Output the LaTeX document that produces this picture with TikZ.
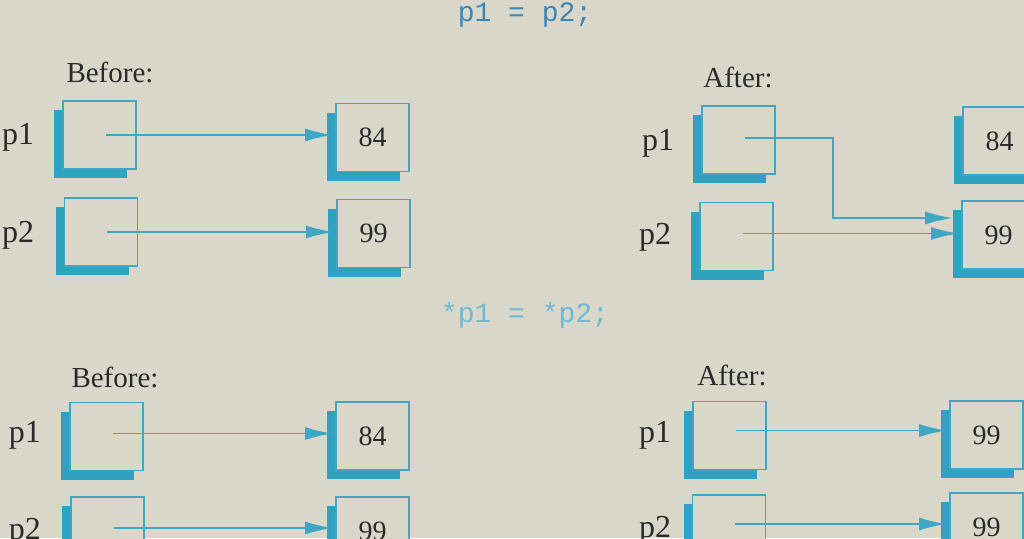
\documentclass[tikz,border=0pt]{standalone}
\usepackage{fontspec}
\setmainfont{Liberation Serif}
\setmonofont{Liberation Mono}
\usetikzlibrary{arrows.meta,shadows,calc}
\definecolor{paper}{HTML}{D8D7CA}
\definecolor{cy}{HTML}{3FA7C4}
\definecolor{cyshadow}{HTML}{2FA2C0}
\definecolor{ink}{HTML}{2A2A2A}
\definecolor{codeblue}{HTML}{3A86B8}
\definecolor{codelight}{HTML}{6DBAD4}
\tikzset{
  cell/.style={draw=cy, line width=1.8pt, fill=paper, minimum width=73pt, minimum height=68pt,
    inner sep=0pt, font=\fontsize{28}{28}\selectfont, text=ink,
    drop shadow={shadow xshift=-9pt, shadow yshift=-9pt, fill=cyshadow, opacity=1}},
  ptr/.style={draw=cy, line width=1.6pt, -{Latex[length=27pt,width=13pt]}, shorten >=9pt},
  lbl/.style={font=\fontsize{32}{32}\selectfont, text=ink, inner sep=0pt},
  hdr/.style={font=\fontsize{29}{29}\selectfont, text=ink, inner sep=0pt},
  code/.style={font=\ttfamily\fontsize{28}{28}\selectfont, inner sep=0pt}
}
\begin{document}
\begin{tikzpicture}[x=1pt,y=-1pt]
\useasboundingbox (0,0) rectangle (1024,538);
\clip (0,0) rectangle (1024,538);
\fill[paper] (0,0) rectangle (1024,538);

% titles
\node[code, text=codeblue] (t1) at (525,15) {p1 = p2;};
\node[code, text=codelight] (t2) at (525,315) {*p1 = *p2;};

% ---------- top left: Before ----------
\node[hdr] (hb1) at (110,72) {Before:};
\node[lbl] (lp1a) at (18,137) {p1};
\node[lbl] (lp2a) at (18,235) {p2};
\node[cell] (ap1) at (99.5,135) {};
\node[cell] (ap2) at (101,232) {};
\node[cell] (a84) at (372.5,137.5) {84};
\node[cell] (a99) at (373.5,233.5) {99};
\draw[ptr] ([xshift=6pt]ap1.center) -- ([xshift=6pt]ap1.center -| a84.west);
\draw[ptr] ([xshift=6pt]ap2.center) -- ([xshift=6pt]ap2.center -| a99.west);

% ---------- top right: After ----------
\node[hdr] (ha1) at (738,77) {After:};
\node[lbl] (lp1b) at (658,143) {p1};
\node[lbl] (lp2b) at (655,237) {p2};
\node[cell] (bp1) at (738.5,140) {};
\node[cell] (bp2) at (736.5,236.5) {};
\node[cell] (b84) at (999.5,141) {84};
\node[cell] (b99) at (998.5,235) {99};
\coordinate (elbow) at (833,218);
\draw[ptr] ([xshift=6pt,yshift=2pt]bp1.center) -| (elbow) -- (elbow -| b99.west);
\draw[ptr] ([xshift=6pt,yshift=3pt]bp2.center) -- ([xshift=6pt,yshift=3pt]bp2.center -| b99.west);

% ---------- bottom left: Before ----------
\node[hdr] (hb2) at (115,377) {Before:};
\node[lbl] (lp1c) at (25,435) {p1};
\node[lbl] (lp2c) at (25,532) {p2};
\node[cell] (cp1) at (106.5,436.5) {};
\node[cell] (cp2) at (107.5,531) {};
\node[cell] (c84) at (372.5,436) {84};
\node[cell] (c99) at (372.5,531) {99};
\draw[ptr] ([xshift=6pt,yshift=3pt]cp1.center) -- ([xshift=6pt,yshift=3pt]cp1.center -| c84.west);
\draw[ptr] ([xshift=6pt,yshift=3pt]cp2.center) -- ([xshift=6pt,yshift=3pt]cp2.center -| c99.west);

% ---------- bottom right: After ----------
\node[hdr] (ha2) at (732,375) {After:};
\node[lbl] (lp1d) at (655,435) {p1};
\node[lbl] (lp2d) at (655,530) {p2};
\node[cell] (dp1) at (729.5,435.5) {};
\node[cell] (dp2) at (729,529) {};
\node[cell] (d99a) at (986.5,435) {99};
\node[cell] (d99b) at (986.5,527) {99};
\draw[ptr] ([xshift=6pt,yshift=5pt]dp1.center) -- ([xshift=6pt,yshift=5pt]dp1.center -| d99a.west);
\draw[ptr] ([xshift=6pt,yshift=5pt]dp2.center) -- ([xshift=6pt,yshift=5pt]dp2.center -| d99b.west);
\end{tikzpicture}
\end{document}
